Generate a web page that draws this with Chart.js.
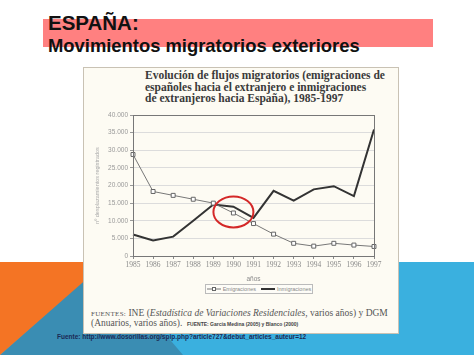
<!DOCTYPE html>
<html><head><meta charset="utf-8">
<script src="https://cdn.jsdelivr.net/npm/chart.js@4/dist/chart.umd.min.js"></script>
<style>
html,body{margin:0;padding:0;}
body{width:474px;height:355px;position:relative;overflow:hidden;background:#fff;font-family:"Liberation Sans",Arial,sans-serif;}
.abs{position:absolute;}
#lightblue{left:0;top:262px;width:474px;height:93px;background:#3AB0DF;}
#orange{left:0;top:262px;width:120px;height:93px;background:#F47424;clip-path:polygon(0 0,106px 0,0 93px);}
#darkblue{left:0;top:262px;width:200px;height:93px;background:#3A8DB3;clip-path:polygon(0 93px,104px 0,183px 93px);}
#pink{left:43px;top:19px;width:390px;height:28px;background:#FF8080;}
.ttl{left:48px;font-weight:bold;color:#111;white-space:nowrap;line-height:20px;}
#panel{left:83px;top:67px;width:314px;height:265px;background:#FDFBF3;border:1px solid #C9C2B4;}
.pt{left:145px;font-family:"Liberation Serif","Times New Roman",serif;font-weight:bold;font-size:11.5px;line-height:12px;color:#3a3a3a;white-space:nowrap;}
#chart{left:84px;top:104px;}
#legend{left:205px;top:284px;width:106px;height:8px;border:1px solid #bbb;font-size:5.5px;color:#8a8a8a;display:flex;align-items:center;justify-content:center;gap:5px;background:#fdfcf7;}
.li{display:flex;align-items:center;gap:2px;}
.fu{left:91px;font-family:"Liberation Serif","Times New Roman",serif;font-size:9.5px;line-height:10px;color:#555;white-space:nowrap;}
#cap{left:57px;top:333px;font-size:6.5px;font-weight:bold;color:#1b2a55;white-space:nowrap;}
</style></head>
<body>
<div id="lightblue" class="abs"></div>
<div id="darkblue" class="abs"></div>
<div id="orange" class="abs"></div>
<div id="pink" class="abs"></div>
<div class="abs ttl" style="top:13px;font-size:20.5px">ESPAÑA:</div>
<div class="abs ttl" style="top:36px;font-size:18.4px">Movimientos migratorios exteriores</div>
<div id="panel" class="abs"></div>
<div class="abs pt" style="top:69px">Evolución de flujos migratorios (emigraciones de</div>
<div class="abs pt" style="top:81px">españoles hacia el extranjero e inmigraciones</div>
<div class="abs pt" style="top:92px">de extranjeros hacia España), 1985-1997</div>
<canvas id="chart" class="abs" width="312" height="179"></canvas>
<div id="legend" class="abs"></div>
<div class="abs fu" style="top:308px"><span style="font-size:7px;letter-spacing:0.3px">FUENTES:</span> INE (<i>Estadística de Variaciones Residenciales</i>, varios años) y DGM</div>
<div class="abs fu" style="top:318px">(Anuarios, varios años). &nbsp;<span style="font-family:'Liberation Sans',Arial,sans-serif;font-size:5px;font-weight:bold;color:#444">FUENTE: García Medina (2005) y Blanco (2000)</span></div>
<div id="cap" class="abs">Fuente: http://www.dosorillas.org/spip.php?article727&amp;debut_articles_auteur=12</div>
<script>
const years = ['1985','1986','1987','1988','1989','1990','1991','1992','1993','1994','1995','1996','1997'];
const emigraciones = [28800,18300,17200,16100,15000,12200,9200,6200,3600,2800,3600,3100,2700];
const inmigraciones = [6100,4400,5500,10000,14600,14000,10800,18500,15700,18900,19800,17000,35900];
const yTicks = [0,5000,10000,15000,20000,25000,30000,35000,40000];
const seriesNames = ['Emigraciones','Inmigraciones'];
const fmt = v => String(v).replace(/\B(?=(\d{3})+(?!\d))/g,'.');

const frame = {
  id:'frame',
  afterDatasetsDraw(chart){
    const {ctx, chartArea:a, scales} = chart;
    ctx.save();
    ctx.strokeStyle='#777'; ctx.lineWidth=1;
    ctx.strokeRect(Math.round(a.left)+0.5, Math.round(a.top)+0.5, Math.round(a.right-a.left), Math.round(a.bottom-a.top));
    const cx = scales.x.getPixelForValue(5);
    const cy = scales.y.getPixelForValue(12500);
    ctx.strokeStyle='#D42828'; ctx.lineWidth=2;
    ctx.beginPath(); ctx.ellipse(cx, cy, 20, 15.5, 0, 0, Math.PI*2); ctx.stroke();
    ctx.restore();
  }
};

const chart = new Chart(document.getElementById('chart'), {
  type:'line',
  data:{labels:years, datasets:[
    {label:seriesNames[0], data:emigraciones, borderColor:'#777', borderWidth:1, pointStyle:'rect', pointRadius:2.8, pointBackgroundColor:'#fff', pointBorderColor:'#666', pointBorderWidth:1, tension:0},
    {label:seriesNames[1], data:inmigraciones, borderColor:'#333', borderWidth:2, pointRadius:0, tension:0}
  ]},
  options:{
    responsive:false, animation:false, devicePixelRatio:1,
    layout:{padding:{top:11,right:22,left:0,bottom:0}},
    plugins:{legend:{display:false}, tooltip:{enabled:false}},
    scales:{
      x:{offset:false, afterFit:s=>{s.height=27;},
        grid:{display:true, drawOnChartArea:false, tickLength:3, color:'#888'},
        border:{color:'#777'},
        ticks:{autoSkip:false, maxRotation:0, padding:2, color:'#8a8a8a', font:{family:'Liberation Serif', size:7.5}},
        title:{display:true, text:'años', color:'#8a8a8a', font:{family:'Liberation Sans', size:6.5}, padding:{top:0,bottom:0}}},
      y:{min:0, max:40000, afterFit:s=>{s.width=49;},
        afterBuildTicks:s=>{s.ticks = yTicks.map(v=>({value:v}));},
        grid:{color:'#dcdcdc', drawTicks:true, tickLength:3, tickColor:'#999'},
        border:{color:'#777'},
        ticks:{padding:2, color:'#999', font:{family:'Liberation Sans', size:6.5}, callback:v=>fmt(v)},
        title:{display:true, text:'nº desplazamientos registrados', color:'#aaa', font:{family:'Liberation Sans', size:5.5}, padding:{top:10,bottom:0}}}
    }
  },
  plugins:[frame]
});

const leg = document.getElementById('legend');
chart.data.datasets.forEach((d,i)=>{
  const it = document.createElement('div'); it.className='li';
  const c = document.createElement('canvas'); c.width=14; c.height=6;
  const g = c.getContext('2d');
  g.strokeStyle=d.borderColor; g.lineWidth=d.borderWidth;
  g.beginPath(); g.moveTo(0,3); g.lineTo(14,3); g.stroke();
  if(d.pointRadius>0){ g.fillStyle='#fff'; g.lineWidth=1; g.strokeStyle='#666'; g.fillRect(5,1,4,4); g.strokeRect(5.5,1.5,3,3); }
  it.appendChild(c);
  const t = document.createElement('span'); t.textContent=d.label; it.appendChild(t);
  leg.appendChild(it);
});
</script>
</body></html>
